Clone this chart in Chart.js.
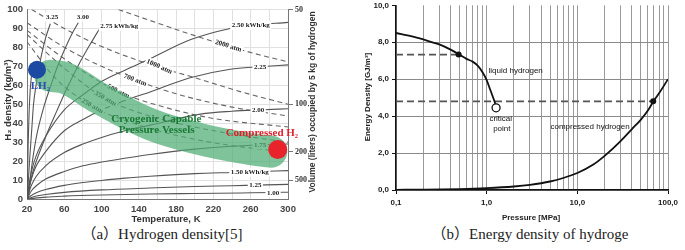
<!DOCTYPE html>
<html>
<head>
<meta charset="utf-8">
<title>Hydrogen density / energy density</title>
<script src="https://cdn.jsdelivr.net/npm/chart.js@4.4.1/dist/chart.umd.min.js"></script>
<style>
  body { margin: 0; background: #fff; }
  #wrap { position: relative; width: 685px; height: 250px; overflow: hidden; }
  canvas { position: absolute; top: 0; }
  #chartA { left: 0; }
  #chartB { left: 345px; }
  .caption { position: absolute; top: 226px; font: 15px "Liberation Serif", "Noto Sans CJK SC", serif; color: #222; white-space: nowrap; transform: translateX(-50%); line-height: 17px; }
</style>
</head>
<body>
<div id="wrap">
  <canvas id="chartA" width="340" height="226"></canvas>
  <canvas id="chartB" width="340" height="226"></canvas>
  <div class="caption" style="left:162px">（a）Hydrogen density[5]</div>
  <div class="caption" style="left:530px">（b）Energy density of hydroge</div>
</div>
<script>
// ---------- (a) H2 density vs temperature ----------
// right axis: liters occupied by 5 kg of hydrogen
const volumeTicks = [50, 100, 200, 500];

// solid lines (kWh/kg) : [temperature K, density kg/m3]
const kwh350 = [[20.2, 0], [20.7, 15], [21.3, 30], [22.2, 45], [23.5, 58], [25, 66]];
const kwh325 = [[20.5, 0], [21.5, 10], [23, 22], [25, 36], [27, 50], [30, 61], [33, 69.5], [36, 77], [40, 85], [45, 92.5]];
const kwh300 = [[21.5, 0], [23, 8], [25, 17], [28, 27], [31, 35], [38, 48.5], [45, 59], [52, 69], [60, 78.5], [68, 87], [75, 93]];
const kwh275 = [[21, 0], [22, 5], [25, 12], [30, 20], [41, 34], [52, 46.5], [63, 58.6], [75, 70.5], [87, 81], [98, 90]];
const kwh250 = [[20, 0], [22, 7], [25, 15], [30, 23], [40, 33], [60, 47], [80, 55], [100, 62], [125, 68], [152, 74], [195, 84], [238, 90], [260, 91.6], [300, 93.2]];
const kwh225 = [[20, 0], [22, 5], [25, 11], [30, 17.5], [40, 25], [60, 36], [80, 42], [100, 47], [125, 52], [152, 56.5], [195, 64], [238, 68.5], [270, 69.8], [300, 70.8]];
const kwh200 = [[20, 0], [22, 3.5], [25, 7.5], [30, 12], [40, 17.5], [60, 24.5], [80, 29], [100, 32.5], [125, 36], [152, 39], [206, 44.8], [240, 46.3], [268, 47], [300, 47.6]];
const kwh175 = [[20, 0], [22, 2], [25, 4.5], [30, 7], [40, 10.5], [60, 14.5], [80, 17.5], [100, 19.5], [125, 21.5], [152, 23.5], [200, 26.3], [240, 27.8], [270, 28.6], [300, 29]];
const kwh150 = [[20, 0], [25, 2], [30, 3.3], [40, 5], [60, 7.2], [80, 8.7], [100, 9.8], [125, 11], [152, 12], [200, 13.4], [240, 14], [260, 14.3], [300, 15]];
const kwh125 = [[20, 0], [30, 1.6], [40, 2.4], [60, 3.5], [100, 4.8], [152, 5.8], [200, 6.6], [240, 7], [265, 7.3], [300, 7.7]];
const kwh100 = [[20, 0], [40, 1], [60, 1.5], [100, 2.1], [152, 2.6], [200, 2.9], [250, 3.2], [284, 3.4], [300, 3.6]];

// dashed isobars
const atm2000 = [[118, 100], [152, 94.2], [195, 87], [236, 80.7], [270, 76], [300, 72.4]];
const atm1000 = [[25, 100], [60, 90], [100, 80.5], [152, 71], [200, 64], [250, 56.5], [300, 50]];
const atm700 = [[20, 93], [60, 80], [100, 70], [136, 62.8], [180, 55.5], [240, 48.5], [300, 43.8]];
const atm500 = [[20, 89], [60, 74], [117.5, 56.8], [160, 49.5], [220, 42.5], [300, 38]];
const atm350 = [[20, 86.8], [60, 69], [104, 53], [150, 44], [200, 38], [250, 33.5], [300, 30]];
const atm250 = [[20, 83], [50, 64], [90, 49], [140, 39], [200, 31.5], [250, 27.5], [300, 24.7]];

// green band: cryogenic capable pressure vessels
const vesselBand = [[45, 65], [63, 63.5], [98, 53], [152, 39.5], [205, 31.7], [259, 26.4], [282, 25]];
const lh2Point = [[30.7, 68.2]];
const compressedPoint = [[289, 26.1]];

// curve labels: text, K, density, angle
const curveLabels = [
  ['3.25', 47, 96, 0], ['3.00', 80, 96, 0], ['2.75 kWh/kg', 119, 91, 0], ['2.50 kWh/kg', 260, 91.5, 0],
  ['2.25', 270, 69.8, 0], ['2.00', 268, 46.9, 0], ['1.75', 270, 28.6, 0], ['1.50 kWh/kg', 259, 14.2, 0],
  ['1.25', 265, 7.3, 0], ['1.00', 284, 3.3, 0],
  ['2000 atm', 236, 80.7, 17], ['1000 atm', 162, 69.8, 24], ['700 atm', 136, 62.8, 21],
  ['500 atm', 118, 56.8, 27], ['350 atm', 104, 53, 30], ['250 atm', 90, 49, 30]
];

// ---------- (b) energy density vs pressure ----------
const pressureTicks = [0.1, 0.2, 0.3, 0.4, 0.5, 0.6, 0.7, 0.8, 0.9, 1, 2, 3, 4, 5, 6, 7, 8, 9, 10, 20, 30, 40, 50, 60, 70, 80, 90, 100];
const pressureLabels = [0.1, 1, 10, 100];
const liquidH2 = [[0.1, 8.5], [0.15, 8.32], [0.2, 8.15], [0.3, 7.88], [0.4, 7.6], [0.5, 7.33], [0.6, 7.1], [0.7, 6.95], [0.8, 6.72], [0.9, 6.38], [1.0, 5.95], [1.1, 5.4], [1.2, 4.9], [1.25, 4.65]];
const compressedH2 = [[0.1, 0.01], [0.2, 0.02], [0.5, 0.05], [1, 0.1], [2, 0.19], [3, 0.28], [5, 0.46], [7, 0.65], [10, 0.92], [15, 1.38], [20, 1.85], [30, 2.65], [40, 3.3], [50, 3.8], [60, 4.3], [70, 4.85], [80, 5.25], [100, 6.0]];
const liquidMark = [0.49, 7.33];
const compressedMark = [68.7, 4.8];
const criticalPoint = [1.27, 4.45];

const toXY = arr => arr.map(p => ({ x: p[0], y: p[1] }));

function txt(ctx, s, x, y, font, color, rot, bg) {
  ctx.save();
  ctx.translate(x, y);
  if (rot) ctx.rotate(rot * Math.PI / 180);
  ctx.font = font;
  ctx.textAlign = 'center';
  ctx.textBaseline = 'middle';
  if (bg) {
    const w = ctx.measureText(s).width;
    ctx.fillStyle = bg;
    ctx.fillRect(-w / 2 - 1.5, -4.5, w + 3, 9);
  }
  ctx.fillStyle = color;
  ctx.fillText(s, 0, 0);
  ctx.restore();
}

function fixSize(prop, size) {
  return s => {
    s[prop] = size;
    s.paddingLeft = s.paddingRight = s.paddingTop = s.paddingBottom = 0;
  };
}

// ----- chart A -----
function curve(data, dashed) {
  return {
    data: toXY(data), borderColor: dashed ? '#666' : '#555', borderWidth: 1.1,
    borderDash: dashed ? [5, 3.5] : [], pointRadius: 0, cubicInterpolationMode: 'monotone', fill: false
  };
}

const sansBold = sz => 'bold ' + sz + 'px "Liberation Sans", Arial, sans-serif';
const serifBold = sz => 'bold ' + sz + 'px "Liberation Serif", "Times New Roman", serif';

const labelsA = {
  id: 'labelsA',
  beforeDatasetDraw(chart, args) {
    if (args.index !== 2) return;
    const { ctx, scales: { x, y } } = chart;
    curveLabels.forEach(l => txt(ctx, l[0], x.getPixelForValue(l[1]), y.getPixelForValue(l[2]), serifBold(7), '#222', l[3], '#fff'));
  },
  afterDraw(chart) {
    const { ctx, scales: { x, y } } = chart;
    txt(ctx, 'LH₂', x.getPixelForValue(34.3), y.getPixelForValue(59.4), serifBold(11), '#2a4fb0');
    txt(ctx, 'Compressed H₂', x.getPixelForValue(272), y.getPixelForValue(34.9), serifBold(11), '#e0202a');
    txt(ctx, 'Cryogenic Capable', x.getPixelForValue(158.7), y.getPixelForValue(42.2), serifBold(11), '#1a7a35');
    txt(ctx, 'Pressure Vessels', x.getPixelForValue(159), y.getPixelForValue(36.3), serifBold(11), '#1a7a35');
    txt(ctx, 'Temperature, K', 166, 219, sansBold(9.5), '#333');
    txt(ctx, 'H₂ density (kg/m³)', 8, 100, sansBold(9.5), '#333', -90);
    txt(ctx, 'Volume (liters) occupied by 5 kg of hydrogen', 313, 102, sansBold(8.5), '#333', -90);
  }
};

new Chart(document.getElementById('chartA'), {
  type: 'line',
  data: {
    datasets: [
      { data: toXY(lh2Point), pointRadius: 9, pointBackgroundColor: '#1c4aa3', pointBorderWidth: 0, showLine: false },
      { data: toXY(compressedPoint), pointRadius: 9.5, pointBackgroundColor: '#e8232b', pointBorderWidth: 0, showLine: false },
      { data: toXY(vesselBand), borderColor: 'rgba(76,172,115,0.72)', borderWidth: 32, borderCapStyle: 'round',
        borderJoinStyle: 'round', tension: 0.4, pointRadius: 0, fill: false },
      curve(kwh350), curve(kwh325), curve(kwh300), curve(kwh275), curve(kwh250), curve(kwh225),
      curve(kwh200), curve(kwh175), curve(kwh150), curve(kwh125), curve(kwh100),
      curve(atm2000, true), curve(atm1000, true), curve(atm700, true),
      curve(atm500, true), curve(atm350, true), curve(atm250, true)
    ]
  },
  options: {
    responsive: false,
    animation: false,
    events: [],
    layout: { padding: { top: 7, left: 0, right: 0, bottom: 0 } },
    plugins: { legend: { display: false }, tooltip: { enabled: false } },
    scales: {
      x: {
        type: 'linear', min: 20, max: 300,
        afterFit: fixSize('height', 27),
        grid: { color: '#e0e0e0', drawTicks: false },
        border: { color: '#777' },
        ticks: {
          stepSize: 20, maxRotation: 0, autoSkip: false, padding: 5, color: '#444', font: { family: '"Liberation Sans", Arial', size: 9.5, weight: 'bold' },
          callback: v => ((v - 20) % 40 === 0 ? v : '')
        }
      },
      y: {
        min: 0, max: 100,
        afterFit: fixSize('width', 27),
        grid: { color: '#e0e0e0', drawTicks: false },
        border: { color: '#777' },
        ticks: { stepSize: 10, padding: 4, color: '#444', font: { family: '"Liberation Sans", Arial', size: 9.5, weight: 'bold' } }
      },
      y2: {
        position: 'right', min: 0, max: 100,
        afterFit: fixSize('width', 52),
        afterBuildTicks: s => { s.ticks = volumeTicks.map(v => ({ value: 5000 / v })); },
        grid: { drawOnChartArea: false, tickLength: 5, color: '#777' },
        border: { color: '#777' },
        ticks: { padding: 2, color: '#333', font: { family: '"Liberation Serif", serif', size: 8, weight: 'bold' },
          callback: v => Math.round(5000 / v) }
      }
    }
  },
  plugins: [labelsA]
});

// ----- chart B -----
const labelsB = {
  id: 'labelsB',
  afterDraw(chart) {
    const { ctx, scales: { x, y } } = chart;
    const f = '8px "Liberation Sans", Arial, sans-serif';
    txt(ctx, 'liquid hydrogen', x.getPixelForValue(2.09), y.getPixelForValue(6.45), f, '#111');
    txt(ctx, 'critical', x.getPixelForValue(1.43), y.getPixelForValue(3.87), f, '#111');
    txt(ctx, 'point', x.getPixelForValue(1.47), y.getPixelForValue(3.3), f, '#111');
    txt(ctx, 'compressed hydrogen', x.getPixelForValue(13.8), y.getPixelForValue(3.44), f, '#111');
    txt(ctx, 'Pressure [MPa]', 186, 218, sansBold(8), '#222');
    txt(ctx, 'Energy Density [GJ/m³]', 23, 97, sansBold(8), '#222', -90);
  }
};

const commaFmt = v => Number(v).toFixed(1).replace('.', ',');

new Chart(document.getElementById('chartB'), {
  type: 'line',
  data: {
    datasets: [
      { data: toXY([criticalPoint]), pointRadius: 4, pointBackgroundColor: '#fff', pointBorderColor: '#111', pointBorderWidth: 1.3, showLine: false },
      { data: toXY([liquidMark, compressedMark]), pointRadius: 3, pointBackgroundColor: '#111', pointBorderWidth: 0, showLine: false },
      { data: toXY(liquidH2), borderColor: '#111', borderWidth: 1.8, pointRadius: 0, cubicInterpolationMode: 'monotone' },
      { data: toXY(compressedH2), borderColor: '#111', borderWidth: 1.8, pointRadius: 0, cubicInterpolationMode: 'monotone' },
      { data: toXY([[0.1, liquidMark[1]], liquidMark]), borderColor: '#555', borderWidth: 1.6, borderDash: [7, 4], pointRadius: 0 },
      { data: toXY([[0.1, compressedMark[1]], compressedMark]), borderColor: '#555', borderWidth: 1.6, borderDash: [7, 4], pointRadius: 0 }
    ]
  },
  options: {
    responsive: false,
    animation: false,
    events: [],
    layout: { padding: { top: 4, left: 0, right: 17, bottom: 0 } },
    plugins: { legend: { display: false }, tooltip: { enabled: false } },
    scales: {
      x: {
        type: 'logarithmic', min: 0.1, max: 100,
        afterFit: fixSize('height', 36),
        afterBuildTicks: s => { s.ticks = pressureTicks.map(v => ({ value: v })); },
        grid: { color: '#9a9a9a', tickLength: 4, tickColor: c => (pressureLabels.includes(c.tick.value) ? '#111' : 'rgba(0,0,0,0)') },
        border: { color: '#111', width: 1.5 },
        ticks: { maxRotation: 0, autoSkip: false, padding: 4, color: '#222', font: { family: '"Liberation Sans", Arial', size: 8, weight: 'bold' },
          callback: v => (pressureLabels.includes(v) ? commaFmt(v) : '') }
      },
      y: {
        min: 0, max: 10,
        afterFit: fixSize('width', 51),
        grid: { color: c => (c.tick.value === 10 ? 'rgba(0,0,0,0)' : '#8a8a8a'), tickLength: 4, tickColor: '#111' },
        border: { color: '#111', width: 1.5 },
        ticks: { stepSize: 2, padding: 3, color: '#222', font: { family: '"Liberation Sans", Arial', size: 8, weight: 'bold' }, callback: commaFmt }
      }
    }
  },
  plugins: [labelsB]
});
</script>
</body>
</html>
